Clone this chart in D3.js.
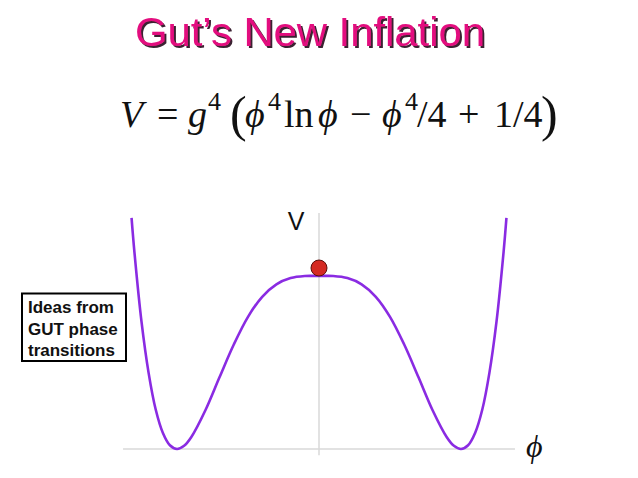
<!DOCTYPE html>
<html>
<head>
<meta charset="utf-8">
<script src="https://cdn.jsdelivr.net/npm/d3@7"></script>
<style>
  body { margin: 0; background: #fff; }
  svg { display: block; }
</style>
</head>
<body>
<div id="chart"></div>
<script>
// potential curve, values (phi, V)
var phiVals = [-1.32, -1.3, -1.25, -1.2, -1.15, -1.1, -1.05, -1.0, -0.95, -0.9, -0.8, -0.7, -0.6, -0.5, -0.4, -0.3, -0.2, -0.1, 0,
               0.1, 0.2, 0.3, 0.4, 0.5, 0.6, 0.7, 0.8, 0.9, 0.95, 1.0, 1.05, 1.1, 1.15, 1.2, 1.25, 1.3, 1.32];
var vVals = [0.334, 0.285, 0.184, 0.110, 0.057, 0.0235, 0.0054, 0, 0.0046, 0.017, 0.056, 0.104, 0.151, 0.191, 0.220, 0.238, 0.247, 0.25, 0.25,
             0.25, 0.247, 0.238, 0.220, 0.191, 0.151, 0.104, 0.056, 0.017, 0.0046, 0, 0.0054, 0.0235, 0.057, 0.110, 0.184, 0.285, 0.334];

// where the ball sits
var ballPhi = [0];
var ballV = [0.25];

// axis extents
var phiAxis = [-1.38, 1.38];
var vAxis = [-0.009, 0.341];

var boxLines = ["Ideas from", "GUT phase", "transitions"];

var width = 638, height = 478;

var svg = d3.select("#chart").append("svg")
    .attr("width", width)
    .attr("height", height);

var x = d3.scaleLinear().domain([-1, 1]).range([177, 461]);
var y = d3.scaleLinear().domain([0, 0.25]).range([449, 276]);

// drop shadow for the title
var defs = svg.append("defs");
defs.append("filter")
    .attr("id", "shadow")
    .attr("x", "-5%").attr("y", "-20%")
    .attr("width", "110%").attr("height", "140%")
  .append("feDropShadow")
    .attr("dx", 2).attr("dy", 2)
    .attr("stdDeviation", 0.4)
    .attr("flood-color", "#3a2030")
    .attr("flood-opacity", 1);

svg.append("text")
    .attr("x", 135).attr("y", 46)
    .attr("font-family", "Liberation Sans, Arial, sans-serif")
    .attr("font-size", 40)
    .attr("textLength", 350).attr("lengthAdjust", "spacingAndGlyphs")
    .attr("fill", "#e3107f")
    .attr("filter", "url(#shadow)")
    .text("Gut\u2019s New Inflation");

// formula
var serif = "Liberation Serif, Times New Roman, serif";
var fParts = [
  {t: "V", x: 120, it: true},
  {t: "=", x: 157},
  {t: "g", x: 188, it: true},
  {t: "4", x: 208, sup: true},
  {t: "(", x: 230, big: true},
  {t: "\u03d5", x: 245, it: true},
  {t: "4", x: 268, sup: true},
  {t: "ln", x: 284},
  {t: "\u03d5", x: 318, it: true},
  {t: "\u2212", x: 350},
  {t: "\u03d5", x: 382, it: true},
  {t: "4", x: 405, sup: true},
  {t: "/4", x: 417},
  {t: "+", x: 458},
  {t: "1/4", x: 494},
  {t: ")", x: 541, big: true}
];
svg.append("g").selectAll("text")
  .data(fParts)
  .enter().append("text")
    .attr("x", d => d.x)
    .attr("y", d => d.sup ? 110 : (d.big ? 131 : 127))
    .attr("font-family", serif)
    .attr("font-style", d => d.it ? "italic" : "normal")
    .attr("font-size", d => d.sup ? 26 : (d.big ? 50 : 38))
    .attr("fill", "#111")
    .text(d => d.t);

// axes (light gray)
svg.append("line")
    .attr("x1", x(phiAxis[0])).attr("x2", x(phiAxis[1]))
    .attr("y1", y(0)).attr("y2", y(0))
    .attr("stroke", "#d8d8d8").attr("stroke-width", 1.5);
svg.append("line")
    .attr("x1", x(0)).attr("x2", x(0))
    .attr("y1", y(vAxis[0])).attr("y2", y(vAxis[1]))
    .attr("stroke", "#d8d8d8").attr("stroke-width", 1.5);

// the potential
var pts = phiVals.map((p, i) => [p, vVals[i]]);
var line = d3.line()
    .x(d => x(d[0]))
    .y(d => y(d[1]))
    .curve(d3.curveCatmullRom.alpha(0.5));
svg.append("path")
    .datum(pts)
    .attr("d", line)
    .attr("fill", "none")
    .attr("stroke", "#8a2be2")
    .attr("stroke-width", 2.6);

// ball on top
var r = 8;
svg.selectAll("circle.ball")
    .data(ballPhi)
  .enter().append("circle")
    .attr("class", "ball")
    .attr("cx", d => x(d))
    .attr("cy", (d, i) => y(ballV[i]) - r)
    .attr("r", r)
    .attr("fill", "#d42a22")
    .attr("stroke", "#5a0e0a")
    .attr("stroke-width", 1);

// axis labels
svg.append("text")
    .attr("x", 296).attr("y", 230)
    .attr("text-anchor", "middle")
    .attr("font-family", "Liberation Sans, Arial, sans-serif")
    .attr("font-size", 25)
    .attr("fill", "#111")
    .text("V");
svg.append("text")
    .attr("x", 526).attr("y", 457)
    .attr("font-family", serif)
    .attr("font-style", "italic")
    .attr("font-size", 32)
    .attr("fill", "#111")
    .text("\u03d5");

// box on the left
svg.append("rect")
    .attr("x", 22).attr("y", 293.5)
    .attr("width", 104).attr("height", 67.5)
    .attr("fill", "#fff")
    .attr("stroke", "#000")
    .attr("stroke-width", 2);
svg.append("g").selectAll("text")
  .data(boxLines)
  .enter().append("text")
    .attr("x", 28)
    .attr("y", (d, i) => 313 + i * 21.5)
    .attr("font-family", "Liberation Sans, Arial, sans-serif")
    .attr("font-weight", "bold")
    .attr("font-size", 17)
    .attr("fill", "#111")
    .text(d => d);
</script>
</body>
</html>
